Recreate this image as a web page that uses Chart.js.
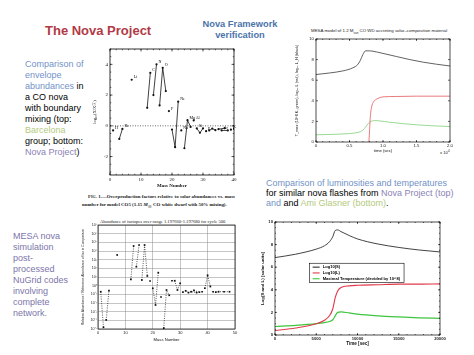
<!DOCTYPE html>
<html><head><meta charset="utf-8">
<script src="https://cdn.jsdelivr.net/npm/chart.js@4.4.1/dist/chart.umd.min.js"></script>
<style>
html,body{margin:0;padding:0;background:#fff;width:474px;height:355px;overflow:hidden;position:relative;font-family:"Liberation Sans",Arial,Helvetica,sans-serif;}
.abs{position:absolute;white-space:nowrap;}
canvas{position:absolute;}
.lb{color:#7393c6}.gr{color:#b4c97e}.pu{color:#8a82b5}
.serif{font-family:"Liberation Serif","Times New Roman",serif;}
</style></head><body>

<div class="abs" style="left:45px;top:22.5px;font-size:13px;line-height:15px;font-weight:bold;color:#b13a46">The Nova Project</div>
<div class="abs" style="left:190px;width:100px;top:18.5px;font-size:9.3px;line-height:11px;font-weight:bold;color:#4c74a9;text-align:center">Nova Framework<br>verification</div>

<div class="abs" style="left:25px;top:58.5px;font-size:9px;line-height:11px;color:#000"><span class="lb">Comparison of</span><br><span class="lb">envelope</span><br><span class="lb">abundances</span> in<br>a CO nova<br>with boundary<br>mixing (top:<br><span class="gr">Barcelona</span><br>group; bottom:<br><span class="pu">Nova Project</span>)</div>

<div class="abs" style="left:13px;top:231.2px;font-size:9px;line-height:11px;color:#7c75aa">MESA nova<br>simulation<br>post-<br>processed<br>NuGrid codes<br>involving<br>complete<br>network.</div>

<div class="abs" style="left:266px;top:177.5px;font-size:9px;line-height:10px;color:#000"><span class="lb">Comparison of luminosities and temperatures</span><br>for similar nova flashes from <span class="pu">Nova Project (top)</span><br><span class="lb">and</span> and <span class="gr">Ami Glasner (bottom)</span>.</div>

<div class="abs serif" style="left:82px;top:193px;width:153px;white-space:normal;font-size:4.9px;line-height:7.5px;font-weight:bold;color:#222;text-align:justify;text-indent:6px">F<span style="font-size:4px">IG</span>. 1.—Overproduction factors relative to solar abundances vs. mass number for model CO5 (1.15 <i>M</i><sub style="font-size:3.5px">☉</sub> CO white dwarf with 50% mixing).</div>

<div class="abs serif" style="left:100px;top:219.3px;font-size:4.6px;line-height:5px;color:#222">Abundance of isotopes over range 1.197660-1.197680 for cycle 500</div>

<div class="abs" style="left:311px;top:27.5px;font-size:4.4px;line-height:5px;color:#222">MESA model of 1.2 M<sub style="font-size:3px">sun</sub> CO WD accreting solar–composition material</div>
<div class="abs" style="left:440px;top:148.5px;font-size:4.2px;line-height:5px;color:#222">x 10<sup style="font-size:3px">4</sup></div>

<canvas id="c1" width="148" height="146" style="left:92px;top:44px"></canvas>
<canvas id="c2" width="159" height="126" style="left:81px;top:217px"></canvas>
<canvas id="c3" width="165" height="120" style="left:295px;top:34px"></canvas>
<canvas id="c4" width="190" height="131" style="left:260px;top:216px"></canvas>

<script>
// ---------- Chart 1: Barcelona group, log10(X/Xsol) vs mass number ----------
const barcelonaMass = [1,3,4,7,12,13,14,15,16,17,18,19,20,21,22,23,24,25,26,27,28,29,30,31,32,33,34,35,36,37,38,39,40];
const barcelonaLogX = [-0.3,-0.85,-0.2,3.0,1.17,3.45,2.0,4.0,1.33,3.78,2.26,0.96,-0.24,-1.39,1.57,-0.3,-1.46,0.37,-0.07,0.35,-0.17,-0.45,-0.17,-0.35,-0.3,-0.18,-0.28,-0.22,-0.3,-0.15,-0.3,-0.25,-0.2];
const barcelonaElem = ['H','He','He','Li','C','C','N','N','O','O','O','F','Ne','Ne','Ne','Na','Mg','Mg','Mg','Al','Si','Si','Si','P','S','S','S','Cl','Ar','Cl','Ar','K','Ca'];
const barcelonaLabelled = ['H','He','Li','C','N','O','F','Ne','Na','Mg','Al','Si','P','Ar','K'];

// ---------- Chart 2: Nova Project, log10 abundance ratio vs mass number ----------
const novaMass = [1,2,3,4,7,12,13,14,15,16,17,18,19,20,21,22,23,24,25,26,27,28,29,30,31,32,33,34,35,36,37,38,39,40,41,42,43,44,46,48];
const novaLogRatio = [-0.7,-4.8,-3.96,-0.58,3.54,0.73,4.58,2.19,4.69,0.65,4.69,1.12,0.54,-0.3,-2.23,1.5,-1.31,-4.9,-0.5,-1.11,0.57,0.57,-0.5,0.27,-0.75,-0.6,-0.8,-0.7,-0.55,-0.8,-0.75,-0.7,-0.3,1.2,-0.1,-0.7,-0.75,-0.7,-0.7,-0.7];
const novaElem = ['H','H','He','He','Li','C','C','N','N','O','O','O','F','Ne','Ne','Ne','Na','Mg','Mg','Mg','Al','Si','Si','Si','P','S','S','S','Cl','S','Cl','Ar','K','K','K','Ca','Ca','Ca','Ca','Ca'];
const novaDecadeTicks = [-5,-4,-3,-2,-1,0,1,2,3,4,5,6,7];

// ---------- Chart 3: MESA model (time in 10^4 s) ----------
const mesaTimeLH = [0,0.2,0.4,0.55,0.62,0.66,0.7,0.74,0.8,0.9,1.0,1.2,1.4,1.6,1.8,2.0];
const mesaLogLH  = [6.55,6.7,6.9,7.2,7.5,7.9,8.5,8.85,8.85,8.75,8.6,8.3,8.0,7.75,7.55,7.38];
const mesaTimeL  = [0.79,0.8,0.81,0.83,0.86,0.9,0.95,1.0,1.2,1.5,2.0];
const mesaLogL   = [0,1.2,2.4,3.4,3.9,4.15,4.3,4.38,4.42,4.45,4.45];
const mesaTimeT  = [0,0.3,0.5,0.6,0.66,0.7,0.74,0.78,0.82,0.87,0.95,1.1,1.3,1.5,1.75,2.0];
const mesaTmax   = [0.7,0.75,0.82,0.9,1.0,1.15,1.45,1.8,2.0,2.08,2.05,1.92,1.78,1.67,1.57,1.5];

// ---------- Chart 4: Ami Glasner (time in s) ----------
const glasnerTime = [0,2500,5000,6000,6600,7000,7300,7600,8000,9000,10000,12500,15000,17500,20000];
const glasnerLogS = [6.85,7.15,7.6,7.9,8.25,8.7,9.25,9.3,9.15,8.8,8.5,8.05,7.75,7.52,7.35];
const glasnerLogL = [0.4,0.62,1.0,1.3,1.7,2.3,3.3,3.9,4.2,4.35,4.4,4.45,4.5,4.5,4.52];
const glasnerTmax = [0.75,0.85,1.0,1.1,1.2,1.35,1.7,2.0,2.05,1.95,1.85,1.7,1.6,1.52,1.47];
const glasnerLabels = ['Log10(S)','Log10(L)','Maximal Temperature (devided by 10^8)'];

const SERIF = "'Liberation Serif','Times New Roman',serif";
const SANS = "'Liberation Sans',Arial,sans-serif";
Chart.defaults.color = '#111';
Chart.defaults.font.family = SANS;

function pts(xs, ys){ return xs.map((x,i)=>({x:x, y:ys[i]})); }
function groupByElement(mass, vals, elems){
  const order=[], map={};
  mass.forEach((m,i)=>{ const e=elems[i]; if(!map[e]){map[e]=[];order.push(e);} map[e].push({x:m,y:vals[i]}); });
  return order.map(e=>({label:e, data:map[e]}));
}
const SUP = {'-':'⁻','0':'⁰','1':'¹','2':'²','3':'³','4':'⁴','5':'⁵','6':'⁶','7':'⁷','8':'⁸','9':'⁹'};
function sup(v){ return String(v).split('').map(c=>SUP[c]||c).join(''); }

const framePlugin = {
  id:'frame',
  afterDatasetsDraw(chart, args, o){
    if(!o || !o.draw) return;
    const {ctx, chartArea:a, scales} = chart;
    ctx.save();
    ctx.strokeStyle = '#000'; ctx.lineWidth = o.width || 0.8;
    if (o.zeroLine) {
      const y0 = scales.y.getPixelForValue(0);
      ctx.save(); ctx.setLineDash([1,1.5]); ctx.lineWidth=0.6;
      ctx.beginPath(); ctx.moveTo(a.left,y0); ctx.lineTo(a.right,y0); ctx.stroke(); ctx.restore();
    }
    ctx.strokeRect(a.left, a.top, a.right-a.left, a.bottom-a.top);
    const L = o.tick || 0;
    if (L > 0) {
      ctx.lineWidth = 0.6;
      ctx.beginPath();
      scales.x.ticks.forEach(t=>{ const p=scales.x.getPixelForValue(t.value);
        ctx.moveTo(p,a.bottom); ctx.lineTo(p,a.bottom-L); ctx.moveTo(p,a.top); ctx.lineTo(p,a.top+L); });
      scales.y.ticks.forEach(t=>{ const p=scales.y.getPixelForValue(t.value);
        ctx.moveTo(a.left,p); ctx.lineTo(a.left+L,p); ctx.moveTo(a.right,p); ctx.lineTo(a.right-L,p); });
      if (o.minorX) for (let v=scales.x.min; v<=scales.x.max+1e-9; v+=o.minorX) { const p=scales.x.getPixelForValue(v);
        ctx.moveTo(p,a.bottom); ctx.lineTo(p,a.bottom-L/2); ctx.moveTo(p,a.top); ctx.lineTo(p,a.top+L/2); }
      if (o.minorY) for (let v=Math.ceil(scales.y.min/o.minorY)*o.minorY; v<=scales.y.max+1e-9; v+=o.minorY) { const p=scales.y.getPixelForValue(v);
        ctx.moveTo(a.left,p); ctx.lineTo(a.left+L/2,p); ctx.moveTo(a.right,p); ctx.lineTo(a.right-L/2,p); }
      ctx.stroke();
    }
    ctx.restore();
  }
};
const elemLabels = {
  id:'elemLabels',
  afterDatasetsDraw(chart, args, o){
    if(!o || !o.show) return;
    const ctx = chart.ctx;
    ctx.save(); ctx.font = o.font; ctx.fillStyle = '#000'; ctx.textBaseline = 'middle';
    chart.data.datasets.forEach((d,i)=>{
      if (!o.show.includes(d.label)) return;
      const meta = chart.getDatasetMeta(i);
      let bi = 0; d.data.forEach((p,j)=>{ if (p.y > d.data[bi].y) bi = j; });
      const el = meta.data[bi];
      ctx.fillText(d.label, el.x + 2, el.y - 2.5);
    });
    ctx.restore();
  }
};
const boxLegend = {
  id:'boxLegend',
  afterDatasetsDraw(chart, args, o){
    if(!o || !o.draw) return;
    const {ctx, chartArea:a} = chart;
    const x0 = a.left + o.fx*(a.right-a.left), y0 = a.top + o.fy*(a.bottom-a.top);
    const ds = chart.data.datasets;
    ctx.save(); ctx.font = o.font;
    let w = 0; ds.forEach(d=>{ w = Math.max(w, ctx.measureText(d.label).width); });
    const W = 3 + o.sample + 3 + w + 4, H = o.rowH*ds.length + 2;
    ctx.fillStyle='#fff'; ctx.fillRect(x0,y0,W,H);
    ctx.strokeStyle='#000'; ctx.lineWidth=0.6; ctx.strokeRect(x0,y0,W,H);
    ds.forEach((d,i)=>{
      const y = y0 + 1 + o.rowH*(i+0.5);
      ctx.strokeStyle = d.borderColor; ctx.lineWidth = 1.1;
      ctx.beginPath(); ctx.moveTo(x0+3,y); ctx.lineTo(x0+3+o.sample,y); ctx.stroke();
      ctx.fillStyle='#000'; ctx.textBaseline='middle'; ctx.fillText(d.label, x0+6+o.sample, y);
    });
    ctx.restore();
  }
};
Chart.register(framePlugin, elemLabels, boxLegend);

function baseOpts(){ return {responsive:false, animation:false, events:[], devicePixelRatio:1}; }
const NOGRID = {display:false, drawTicks:false};

// ---------- Chart 1 ----------
new Chart(document.getElementById('c1'), {
  type:'scatter',
  data:{ datasets: groupByElement(barcelonaMass, barcelonaLogX, barcelonaElem).map(g=>({
    label:g.label, data:g.data, showLine:true, borderColor:'#111', backgroundColor:'#111',
    borderWidth:0.8, pointRadius:1.1, pointBorderWidth:0 })) },
  options: Object.assign(baseOpts(), {
    layout:{padding:{top:5,right:6,left:0,bottom:0}},
    plugins:{legend:{display:false}, tooltip:{enabled:false},
      frame:{draw:true, tick:2.5, minorX:2, minorY:0.5, zeroLine:true, width:0.8},
      elemLabels:{show:barcelonaLabelled, font:"4px "+SERIF}},
    scales:{
      x:{type:'linear', min:0, max:40, grid:NOGRID, border:{display:false},
        ticks:{stepSize:10, autoSkip:false, maxRotation:0, padding:1.5, font:{size:5, family:SERIF}, color:'#111'},
        title:{display:true, text:'Mass Number', font:{size:5, weight:'bold', family:SERIF}, padding:{top:0,bottom:1}},
        afterFit:s=>{ s.height = 15; }},
      y:{min:-3.2, max:5, grid:NOGRID, border:{display:false},
        ticks:{stepSize:2, autoSkip:false, padding:2, font:{size:5, family:SERIF}, color:'#111'},
        afterBuildTicks:s=>{ s.ticks = s.ticks.filter(t=>Math.abs(t.value % 2) < 1e-9); },
        title:{display:true, text:'log₁₀(X/X☉)', font:{size:4.5, family:SERIF}, padding:{top:0,bottom:0}},
        afterFit:s=>{ s.width = 18; }}
    }
  })
});

// ---------- Chart 2 ----------
new Chart(document.getElementById('c2'), {
  type:'scatter',
  data:{ datasets: groupByElement(novaMass, novaLogRatio, novaElem).map(g=>({
    label:g.label, data:g.data, showLine:true, borderColor:'#111', backgroundColor:'#111',
    borderWidth:0.7, borderDash:[1,1.3], pointRadius:1.2, pointStyle:'rect', pointBorderWidth:0 })) },
  options: Object.assign(baseOpts(), {
    layout:{padding:{top:8,right:5,left:0,bottom:0}},
    plugins:{legend:{display:false}, tooltip:{enabled:false}, frame:{draw:true, tick:0, width:0.7}},
    scales:{
      x:{type:'linear', min:0, max:50, grid:{color:'#8a8a8a', lineWidth:0.5, drawTicks:false}, border:{display:false},
        ticks:{stepSize:10, autoSkip:false, maxRotation:0, padding:1.5, font:{size:4}, color:'#222'},
        title:{display:true, text:'Mass Number', font:{size:4.2}, padding:{top:0,bottom:1}},
        afterFit:s=>{ s.height = 14; }},
      y:{min:-5, max:7, grid:{color:'#8a8a8a', lineWidth:0.5, drawTicks:false}, border:{display:false},
        afterBuildTicks:s=>{ s.ticks = novaDecadeTicks.map(v=>({value:v})); },
        ticks:{autoSkip:false, padding:1, font:{size:3.6}, color:'#222', callback:v=>'10'+sup(v)},
        title:{display:true, text:'Relative Abundance / Reference Abundance of Iso in Comparison', font:{size:3.3}, padding:{top:0,bottom:0}},
        afterFit:s=>{ s.width = 17; }}
    }
  })
});

// ---------- Chart 3 ----------
new Chart(document.getElementById('c3'), {
  type:'scatter',
  data:{ datasets:[
    {label:'log10 L_H', data:pts(mesaTimeLH, mesaLogLH), borderColor:'#3a3a3a'},
    {label:'log10 L', data:pts(mesaTimeL, mesaLogL), borderColor:'#e4585c'},
    {label:'Tmax', data:pts(mesaTimeT, mesaTmax), borderColor:'#7fd07a'}
  ].map(d=>Object.assign(d,{showLine:true, pointRadius:0, borderWidth:0.8, cubicInterpolationMode:'monotone'})) },
  options: Object.assign(baseOpts(), {
    layout:{padding:{top:5,right:10,left:0,bottom:0}},
    plugins:{legend:{display:false}, tooltip:{enabled:false}, frame:{draw:true, tick:2, minorX:0.1, width:0.7}},
    scales:{
      x:{type:'linear', min:0, max:2, grid:NOGRID, border:{display:false},
        ticks:{stepSize:0.5, autoSkip:false, maxRotation:0, padding:1.5, font:{size:4.3}, color:'#222'},
        title:{display:true, text:'time (sec)', font:{size:4.2}, padding:{top:0,bottom:1}},
        afterFit:s=>{ s.height = 12; }},
      y:{min:0, max:10, grid:NOGRID, border:{display:false},
        ticks:{stepSize:2, autoSkip:false, padding:2, font:{size:4.3}, color:'#222'},
        title:{display:true, text:'T_max (10^8 K, green), log₁₀ L (red), log₁₀ L_H (black)', font:{size:3.8}, padding:{top:0,bottom:0}},
        afterFit:s=>{ s.width = 21; }}
    }
  })
});

// ---------- Chart 4 ----------
new Chart(document.getElementById('c4'), {
  type:'scatter',
  data:{ datasets:[
    {label:glasnerLabels[0], data:pts(glasnerTime, glasnerLogS), borderColor:'#2e2e2e', borderWidth:0.9},
    {label:glasnerLabels[1], data:pts(glasnerTime, glasnerLogL), borderColor:'#e03a4a', borderWidth:1.1},
    {label:glasnerLabels[2], data:pts(glasnerTime, glasnerTmax), borderColor:'#3fc43f', borderWidth:1.2}
  ].map(d=>Object.assign(d,{showLine:true, pointRadius:0, cubicInterpolationMode:'monotone'})) },
  options: Object.assign(baseOpts(), {
    layout:{padding:{top:6,right:10,left:0,bottom:0}},
    plugins:{legend:{display:false}, tooltip:{enabled:false},
      frame:{draw:true, tick:2, minorX:1000, minorY:0.5, width:0.7},
      boxLegend:{draw:true, fx:0.21, fy:0.365, rowH:5.8, sample:7, font:"bold 4.1px "+SANS}},
    scales:{
      x:{type:'linear', min:0, max:20000, grid:NOGRID, border:{display:false},
        ticks:{stepSize:5000, autoSkip:false, maxRotation:0, padding:1.5, font:{size:4.2, weight:'bold'}, color:'#222', callback:v=>String(v)},
        title:{display:true, text:'Time [sec]', font:{size:4.6, weight:'bold'}, padding:{top:0,bottom:1}},
        afterFit:s=>{ s.height = 12; }},
      y:{min:0, max:10, grid:NOGRID, border:{display:false},
        ticks:{stepSize:2, autoSkip:false, padding:2, font:{size:4.2, weight:'bold'}, color:'#222'},
        title:{display:true, text:'Log(S and L) [solar units]', font:{size:4.4, weight:'bold'}, padding:{top:0,bottom:0}},
        afterFit:s=>{ s.width = 15; }}
    }
  })
});
</script>
</body></html>
